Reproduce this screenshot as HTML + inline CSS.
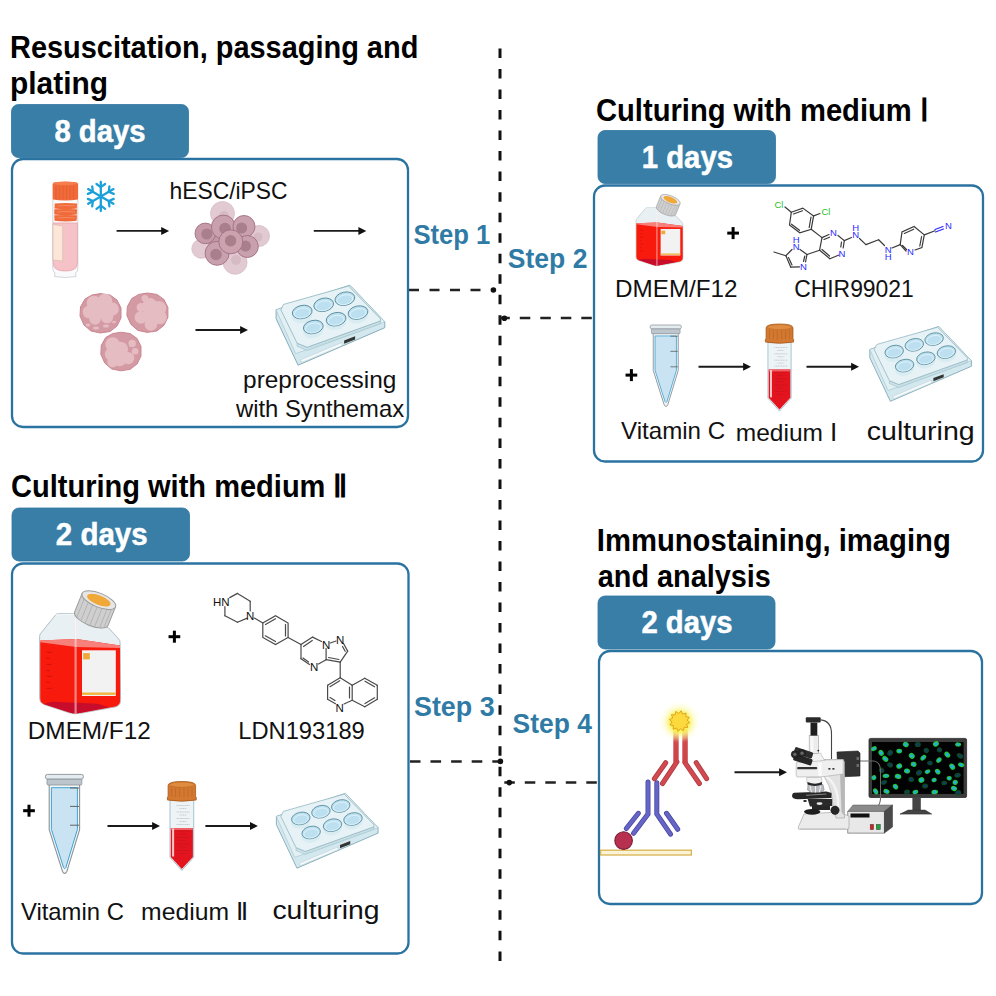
<!DOCTYPE html>
<html><head><meta charset="utf-8">
<style>
html,body{margin:0;padding:0;background:#fff;width:996px;height:996px;overflow:hidden}
svg{display:block}
.t{font-family:"Liberation Sans",sans-serif;font-weight:bold;fill:#000}
.w{font-family:"Liberation Sans",sans-serif;font-weight:bold;fill:#fff;stroke:#fff;stroke-width:0.5}
.s{font-family:"Liberation Sans",sans-serif;font-weight:bold;fill:#2f7ba6}
.n{font-family:"Liberation Sans",sans-serif;fill:#111}
</style></head><body>
<svg width="996" height="996" viewBox="0 0 996 996">
<!-- vertical dashed line -->
<line x1="500" y1="48.5" x2="500" y2="962" stroke="#111" stroke-width="3" stroke-dasharray="9.5 11.02"/>
<!-- horizontal dashed lines -->
<line x1="409" y1="290" x2="491" y2="290" stroke="#222" stroke-width="2.5" stroke-dasharray="10 10.5"/>
<circle cx="493.4" cy="290" r="2.8" fill="#111"/>
<line x1="499.3" y1="318.1" x2="594" y2="318.1" stroke="#222" stroke-width="2.5" stroke-dasharray="10.5 10"/>
<circle cx="504.4" cy="318.2" r="2.8" fill="#111"/>
<line x1="409.9" y1="761.4" x2="498" y2="761.4" stroke="#222" stroke-width="2.5" stroke-dasharray="10.6 10"/>
<circle cx="500.4" cy="761.4" r="2.8" fill="#111"/>
<line x1="504.3" y1="782.5" x2="599" y2="782.5" stroke="#222" stroke-width="2.5" stroke-dasharray="10.5 10"/>
<circle cx="509.3" cy="782.6" r="2.8" fill="#111"/>

<!-- boxes -->
<rect x="12" y="159" width="396" height="268" rx="11" fill="none" stroke="#2a73a1" stroke-width="2.3"/>
<rect x="11.5" y="104.5" width="177" height="53" rx="7" fill="#387ea7" stroke="#2f76a1" stroke-width="0.8"/>
<rect x="594" y="185.5" width="389" height="276" rx="11" fill="none" stroke="#2a73a1" stroke-width="2.3"/>
<rect x="598" y="130.5" width="177.5" height="53" rx="7" fill="#387ea7" stroke="#2f76a1" stroke-width="0.8"/>
<rect x="12" y="563.5" width="396.5" height="390" rx="11" fill="none" stroke="#2a73a1" stroke-width="2.3"/>
<rect x="12" y="508" width="177.5" height="53" rx="7" fill="#387ea7" stroke="#2f76a1" stroke-width="0.8"/>
<rect x="599" y="651" width="383" height="253" rx="11" fill="none" stroke="#2a73a1" stroke-width="2.3"/>
<rect x="598" y="596" width="177" height="53" rx="7" fill="#387ea7" stroke="#2f76a1" stroke-width="0.8"/>

<!-- titles -->
<text class="t" x="10" y="58.3" font-size="32" textLength="408.3" lengthAdjust="spacingAndGlyphs">Resuscitation, passaging and</text>
<text class="t" x="10" y="93.8" font-size="32" textLength="98" lengthAdjust="spacingAndGlyphs">plating</text>
<text class="t" x="596" y="120.8" font-size="32" textLength="332" lengthAdjust="spacingAndGlyphs">Culturing with medium Ⅰ</text>
<text class="t" x="11" y="497" font-size="32" textLength="337" lengthAdjust="spacingAndGlyphs">Culturing with medium Ⅱ</text>
<text class="t" x="596.8" y="551.2" font-size="32" textLength="354" lengthAdjust="spacingAndGlyphs">Immunostaining, imaging</text>
<text class="t" x="597.8" y="586.5" font-size="32" textLength="173" lengthAdjust="spacingAndGlyphs">and analysis</text>

<!-- tab texts -->
<text class="w" x="54.4" y="141.6" font-size="31" textLength="91.1" lengthAdjust="spacingAndGlyphs">8 days</text>
<text class="w" x="641.8" y="168.3" font-size="31" textLength="91.2" lengthAdjust="spacingAndGlyphs">1 days</text>
<text class="w" x="55.8" y="545" font-size="31" textLength="91.8" lengthAdjust="spacingAndGlyphs">2 days</text>
<text class="w" x="641.4" y="633.1" font-size="31" textLength="91.1" lengthAdjust="spacingAndGlyphs">2 days</text>

<!-- steps -->
<text class="s" x="413.4" y="243.8" font-size="27" textLength="77" lengthAdjust="spacingAndGlyphs">Step 1</text>
<text class="s" x="507.8" y="268" font-size="27" textLength="79.6" lengthAdjust="spacingAndGlyphs">Step 2</text>
<text class="s" x="414" y="716.4" font-size="27" textLength="80.6" lengthAdjust="spacingAndGlyphs">Step 3</text>
<text class="s" x="512.6" y="732.9" font-size="27" textLength="79.4" lengthAdjust="spacingAndGlyphs">Step 4</text>

<!-- labels -->
<text class="n" x="169.5" y="199.3" font-size="24" textLength="118.1" lengthAdjust="spacingAndGlyphs">hESC/iPSC</text>
<text class="n" x="243.1" y="388.3" font-size="24" textLength="153.3" lengthAdjust="spacingAndGlyphs">preprocessing</text>
<text class="n" x="236" y="416.8" font-size="24" textLength="168.1" lengthAdjust="spacingAndGlyphs">with Synthemax</text>
<text class="n" x="615" y="296.7" font-size="24" textLength="122.6" lengthAdjust="spacingAndGlyphs">DMEM/F12</text>
<text class="n" x="794.2" y="296.7" font-size="24" textLength="119.6" lengthAdjust="spacingAndGlyphs">CHIR99021</text>
<text class="n" x="621.1" y="438.7" font-size="24" textLength="104" lengthAdjust="spacingAndGlyphs">Vitamin C</text>
<text class="n" x="735.8" y="440.7" font-size="24" textLength="101.2" lengthAdjust="spacingAndGlyphs">medium Ⅰ</text>
<text class="n" x="866.8" y="440.3" font-size="25" textLength="107.9" lengthAdjust="spacingAndGlyphs">culturing</text>
<text class="n" x="27.8" y="739" font-size="24" textLength="123" lengthAdjust="spacingAndGlyphs">DMEM/F12</text>
<text class="n" x="238.2" y="739" font-size="24" textLength="126.6" lengthAdjust="spacingAndGlyphs">LDN193189</text>
<text class="n" x="20.9" y="919.5" font-size="24" textLength="103" lengthAdjust="spacingAndGlyphs">Vitamin C</text>
<text class="n" x="141.1" y="920" font-size="24" textLength="107.2" lengthAdjust="spacingAndGlyphs">medium Ⅱ</text>
<text class="n" x="272.4" y="919.4" font-size="25" textLength="107.2" lengthAdjust="spacingAndGlyphs">culturing</text>

<!-- ILLUSTRATIONS -->
<defs>
  <g id="arrow">
    <line x1="0" y1="0" x2="46" y2="0" stroke="#1a1a1a" stroke-width="1.9"/>
    <path d="M44.6,-4 L52.5,0 L44.6,4 Z" fill="#111"/>
  </g>
  <g id="plate">
    <path d="M0,24.6 L73.8,0 L108.7,36.6 L108.7,42.5 L22,80 L0,33.5 Z" fill="#d3e8ee" stroke="#86adb9" stroke-width="1"/>
    <path d="M0,24.6 L73.8,0 L108.7,36.6 L19.5,68.5 Z" fill="#e2eff3" stroke="#9ec1cb" stroke-width="0.6"/>
    <path d="M25,74.5 L66,57.3 L66,60.3 L25,77.5 Z" fill="#f6fafb" stroke="#a9c4cc" stroke-width="0.4"/>
    <path d="M68,55.2 L79,51 L79,54.4 L68,58.6 Z" fill="#333"/>
    <path d="M21,58 L31,62.1 L104.2,35.8 L104.2,38.6 L31,65.2 L21,61 Z" fill="#cde3ea" stroke="#8fb4bf" stroke-width="0.5"/>
    <path d="M7.5,19.2 L72.5,0.8 L104.4,33.6 L104.2,35.8 L31,62.1 L21,58 L4.7,24.6 Z" fill="#e6f2f5" stroke="#8fb4bf" stroke-width="0.8"/>
    <g stroke="#a8c6cf" stroke-width="0.5"><path d="M31,64 L104,37.5" stroke-dasharray="0.8 0.8"/></g>
    <g fill="#d9ecf2">
      <path d="M16.1,26.8 L16.1,33 A10,6.6 -12 0 0 36.1,29 L36.1,26.8 Z"/>
      <path d="M27.2,41.8 L27.2,48 A10,6.6 -12 0 0 47.2,44 L47.2,41.8 Z"/>
      <path d="M50,34 L50,40 A10,6.6 -12 0 0 70,36 L70,34 Z"/>
      <path d="M71.9,27.4 L71.9,33.4 A10,6.6 -12 0 0 91.9,29.4 L91.9,27.4 Z"/>
    </g>
    <g fill="#bde0f0" stroke="#5a8e9e" stroke-width="0.9">
      <ellipse cx="26.1" cy="26.8" rx="10" ry="6.6" transform="rotate(-12 26.1 26.8)"/>
      <ellipse cx="47.6" cy="19.6" rx="10" ry="6.6" transform="rotate(-12 47.6 19.6)"/>
      <ellipse cx="68.8" cy="13.5" rx="10" ry="6.6" transform="rotate(-12 68.8 13.5)"/>
      <ellipse cx="37.2" cy="41.8" rx="10" ry="6.6" transform="rotate(-12 37.2 41.8)"/>
      <ellipse cx="60" cy="34" rx="10" ry="6.6" transform="rotate(-12 60 34)"/>
      <ellipse cx="81.9" cy="27.4" rx="10" ry="6.6" transform="rotate(-12 81.9 27.4)"/>
    </g>
    <g fill="none" stroke="#e6f4fa" stroke-width="0.8">
      <ellipse cx="26.1" cy="27.8" rx="8" ry="4.8" transform="rotate(-12 26.1 27.8)"/>
      <ellipse cx="47.6" cy="20.6" rx="8" ry="4.8" transform="rotate(-12 47.6 20.6)"/>
      <ellipse cx="68.8" cy="14.5" rx="8" ry="4.8" transform="rotate(-12 68.8 14.5)"/>
      <ellipse cx="37.2" cy="42.8" rx="8" ry="4.8" transform="rotate(-12 37.2 42.8)"/>
      <ellipse cx="60" cy="35" rx="8" ry="4.8" transform="rotate(-12 60 35)"/>
      <ellipse cx="81.9" cy="28.4" rx="8" ry="4.8" transform="rotate(-12 81.9 28.4)"/>
    </g>
  </g>
  <g id="epp">
    <path d="M3.8,10 L34.2,10 L34.2,55.2 L21.5,97 Q19.3,101 17.1,97 L3.8,55.2 Z" fill="#f4f7f9" stroke="#8a9298" stroke-width="1.1"/>
    <path d="M6,13.3 L32,13.3 L32,55 L20.5,93 Q19.3,95.5 18.1,93 L6,55 Z" fill="#c9e3f3" stroke="#3fa3d0" stroke-width="1"/>
    <rect x="1.6" y="4.4" width="34.8" height="6.2" rx="1" fill="#bcc6cc" stroke="#8a9298" stroke-width="0.8"/>
    <rect x="0" y="0" width="38" height="4.6" rx="2" fill="#e3ecef" stroke="#8a9298" stroke-width="0.9"/>
    <g stroke="#555" stroke-width="0.9"><line x1="24.6" y1="13.6" x2="33.6" y2="13.6"/><line x1="24.6" y1="32" x2="33.6" y2="32"/><line x1="24.6" y1="50.8" x2="33.6" y2="50.8"/></g>
  </g>
  <g id="falcon">
    <path d="M2.4,19 L26.1,19 L26.1,75.8 L14.2,89 L2.4,75.8 Z" fill="#eef4f6" stroke="#a6c4d0" stroke-width="1"/>
    <path d="M3.2,46.5 L25.3,46.5 L25.3,75.5 L14.2,87.5 L3.2,75.5 Z" fill="#e4141e"/><rect x="3.2" y="46.5" width="22.1" height="2" fill="#f06068"/>
    <rect x="4.5" y="47" width="2" height="28" fill="#f8c8c8"/>
    <g stroke="#b8c0c4" stroke-width="0.8" stroke-dasharray="1.2 0.5">
      <line x1="9" y1="24" x2="22" y2="24"/><line x1="12" y1="27" x2="19" y2="27"/>
      <line x1="9" y1="30.5" x2="22" y2="30.5"/><line x1="12" y1="33.5" x2="19" y2="33.5"/>
      <line x1="9" y1="37" x2="22" y2="37"/><line x1="12" y1="40" x2="19" y2="40"/>
      <line x1="9" y1="43" x2="22" y2="43"/>
    </g>
    <g stroke="#c01420" stroke-width="0.8" stroke-dasharray="1.2 0.5">
      <line x1="9" y1="49.5" x2="22" y2="49.5"/><line x1="12" y1="52.5" x2="19" y2="52.5"/>
      <line x1="9" y1="56" x2="22" y2="56"/><line x1="12" y1="59" x2="19" y2="59"/>
      <line x1="9" y1="62.5" x2="22" y2="62.5"/><line x1="12" y1="65.5" x2="19" y2="65.5"/>
      <line x1="9" y1="69" x2="22" y2="69"/><line x1="12" y1="72" x2="19" y2="72"/>
    </g>
    <path d="M0.5,4 Q0.5,0 14.2,0 Q28,0 28,4 L28,15 L28.6,15.5 L28.6,18.5 Q14.2,21 -0.2,18.5 L-0.2,15.5 L0.5,15 Z" fill="#d27830" stroke="#a85a1c" stroke-width="0.8"/><g stroke="#b8621e" stroke-width="0.6"><line x1="4" y1="6" x2="4" y2="15"/><line x1="8" y1="6.5" x2="8" y2="15.5"/><line x1="12" y1="6.5" x2="12" y2="15.5"/><line x1="16.4" y1="6.5" x2="16.4" y2="15.5"/><line x1="20.4" y1="6.5" x2="20.4" y2="15.5"/><line x1="24.4" y1="6" x2="24.4" y2="15"/></g>
    <ellipse cx="14.2" cy="3.2" rx="12.5" ry="2.6" fill="#e08c40" stroke="#b86a24" stroke-width="0.6"/>
  </g>
  <g id="flask">
    <path d="M0,48 Q0,46 1.5,44.5 L16,26.5 Q17,25.4 18.5,25.4 L36,25 L69,39.5 L79,50.5 Q80.5,52 80.5,54 L81,112 Q81,117 76,118.5 L40,125 Q35,126 30,124.5 L4,116 Q0,114.5 0,110 Z" fill="#e8f0f3" stroke="#aebfc6" stroke-width="1"/>
    <path d="M0.6,52.1 L36.8,50.7 L80.4,57 L80.5,112 Q80.5,116.5 76,118 L40,124.5 Q35,125.5 30,124 L4,115.5 Q0.6,114 0.6,110 Z" fill="#f81a0c"/>
    <path d="M0.6,52.1 L36.8,50.7 L80.4,57 L80.4,59.5 L36.8,58.6 L0.6,53.8 Z" fill="#f7807a"/>
    <path d="M12.9,113.3 L57.9,115.4 L69.2,118.9 L40,124.5 Q35,125.5 30,124 L4,115.5 Z" fill="#c80c2c"/>
    <g stroke="#d01010" stroke-width="0.9"><line x1="7" y1="64" x2="12" y2="64"/><line x1="7" y1="70" x2="10" y2="70"/><line x1="7" y1="76" x2="12" y2="76"/><line x1="7" y1="82" x2="10" y2="82"/><line x1="7" y1="88" x2="12" y2="88"/><line x1="7" y1="94" x2="10" y2="94"/><line x1="7" y1="100" x2="12" y2="100"/></g>
    <line x1="36" y1="25.5" x2="36" y2="125" stroke="#fbe0e0" stroke-width="2.2" opacity="0.55"/>
    <path d="M16,26.5 L36,25.5 L36,51" fill="none" stroke="#ffffff" stroke-width="1.2" opacity="0.6"/>
    <rect x="42.4" y="61.9" width="33.8" height="45.7" fill="#f2f2f2"/>
    <rect x="43.6" y="64.7" width="6.6" height="6.3" fill="#f0a838"/>
    <rect x="42.4" y="104.1" width="33.8" height="2.4" fill="#f0b440"/>
    <g transform="translate(55.5 21) rotate(22)">
      <path d="M-18,-10 L-18,10 A18,7 0 0 0 18,10 L18,-10 Z" fill="#cfcfcf" stroke="#9a9a9a" stroke-width="1"/>
      <g stroke="#b0b0b0" stroke-width="0.8"><line x1="-14" y1="-6" x2="-14" y2="14"/><line x1="-9" y1="-4" x2="-9" y2="16"/><line x1="-4" y1="-3" x2="-4" y2="17"/><line x1="1" y1="-3" x2="1" y2="17"/><line x1="6" y1="-3.5" x2="6" y2="16.5"/><line x1="11" y1="-5" x2="11" y2="15"/><line x1="15" y1="-7" x2="15" y2="13"/></g>
      <ellipse cx="0" cy="-10" rx="18" ry="7" fill="#e6e6e6" stroke="#9a9a9a" stroke-width="1"/>
      <ellipse cx="0" cy="-10" rx="12.5" ry="4.8" fill="#f0a838"/>
    </g>
  </g>
  <g id="snow" stroke="#1aa0d8" stroke-width="2.6" stroke-linecap="butt" fill="none">
    <g id="arm"><line x1="0" y1="0" x2="0" y2="-14.6"/><polyline points="-4.3,-12.4 0,-9.2 4.3,-12.4"/></g>
  </g>
</defs>

<!-- BOX1 -->
<!-- cryovial -->
<g>
  <path d="M52.8,200 L52.8,268 Q52.8,272 55,273 L54.5,276.5 Q65,278.5 76,276.5 L75.6,273 Q77.8,272 77.8,268 L77.8,200" fill="#f8fafb" stroke="#c8cdd0" stroke-width="0.8"/>
  <path d="M53.2,223 L77.4,223 L77.4,263 Q77.4,271 65.3,271 Q53.2,271 53.2,263 Z" fill="#f5c2c8" stroke="#e8a2ac" stroke-width="0.8"/>
  <path d="M53,224.5 L62.7,226 L62.7,261 L53,260 Z" fill="#fce6d8" stroke="#d8b8a8" stroke-width="0.6"/>
  <g fill="#f06a3a">
    <path d="M54.8,203.5 Q66,202.3 77,203.5 L76.8,208.6 Q66,209.6 54.5,208.6 Z"/>
    <path d="M54.3,209.3 Q66,208.5 77,209.3 L76.8,214.6 Q66,215.6 54.3,214.6 Z"/>
    <path d="M54.3,215.3 Q66,214.5 77,215.3 L76.6,220.8 Q66,222 54.6,220.8 Z"/>
  </g>
  <g stroke="#f7a080" stroke-width="0.6" fill="none"><path d="M57,206 Q66,205 75,206"/><path d="M57,212 Q66,211 75,212"/><path d="M57,218 Q66,217 75,218"/></g>
  <path d="M52.6,184 Q52.6,181.8 65.3,181.8 Q78.1,181.8 78.1,184 L78.1,199.5 Q65.3,201.5 52.6,199.5 Z" fill="#f06a3a"/>
  <ellipse cx="65.3" cy="183.2" rx="12.5" ry="1.8" fill="#f47e50"/>
  <g stroke="#d85828" stroke-width="0.5"><line x1="56" y1="186" x2="56" y2="199"/><line x1="59.5" y1="186" x2="59.5" y2="199"/><line x1="63" y1="186" x2="63" y2="199"/><line x1="66.5" y1="186" x2="66.5" y2="199"/><line x1="70" y1="186" x2="70" y2="199"/><line x1="73.5" y1="186" x2="73.5" y2="199"/></g>
</g>
<!-- snowflake -->
<g transform="translate(100.8 196.4)" stroke="#1ca0da" stroke-width="2.3" stroke-linecap="round" stroke-linejoin="round" fill="none">
  <use href="#arm"/>
  <use href="#arm" transform="rotate(60)"/>
  <use href="#arm" transform="rotate(120)"/>
  <use href="#arm" transform="rotate(180)"/>
  <use href="#arm" transform="rotate(240)"/>
  <use href="#arm" transform="rotate(300)"/>
</g>
<use href="#arrow" transform="translate(116.6 230.9)"/>
<use href="#arrow" transform="translate(313.8 230.9)"/>
<use href="#arrow" transform="translate(195.5 330)"/>

<!-- cell cluster -->
<g>
  <g fill="#e2cad2" stroke="#d8bcc6" stroke-width="0.8">
    <circle cx="222.5" cy="213.5" r="12"/>
    <circle cx="259" cy="236" r="10.5"/>
    <circle cx="201.3" cy="248.8" r="9.5"/>
    <circle cx="235.1" cy="262.3" r="12"/>
  </g>
  <circle cx="215" cy="242" r="7" fill="#c29aa6"/>
  <g fill="#d6bac4"><circle cx="224" cy="216" r="5"/><circle cx="258" cy="237" r="4.5"/><circle cx="236" cy="260" r="5"/></g>
  <g stroke="#a06e82" stroke-width="0.9">
    <circle cx="205.3" cy="233.4" r="10.3" fill="#c69aa8"/>
    <circle cx="206.8" cy="234" r="5.5" fill="#a97e8d" stroke="none"/>
    <circle cx="223.4" cy="227.1" r="12" fill="#c9a0ad"/>
    <circle cx="225" cy="228.5" r="5.8" fill="#a97e8d" stroke="none"/>
    <circle cx="244" cy="226.5" r="11" fill="#c9a0ad"/>
    <circle cx="241.6" cy="228" r="5.5" fill="#a97e8d" stroke="none"/>
    <circle cx="217.1" cy="253.3" r="12" fill="#c9a0ad"/>
    <circle cx="216" cy="254.5" r="5.8" fill="#a97e8d" stroke="none"/>
    <circle cx="247.3" cy="246.5" r="11" fill="#c9a0ad"/>
    <circle cx="245.5" cy="246" r="5.5" fill="#a97e8d" stroke="none"/>
    <circle cx="230.8" cy="241.8" r="12" fill="#cba2ae"/>
    <circle cx="230.6" cy="240.8" r="5.7" fill="#a97e8d" stroke="none"/>
  </g>
</g>

<!-- spheroids -->
<g id="sph">
  <path d="M100.4,293.6 L110,295 L117,300 L121,308 L121,318 L117,326 L110,331.5 L100.4,333 L91,331 L84,325 L80,316 L80.5,307 L85,299 L92,295 Z" fill="#d49aa3" stroke="#c98590" stroke-width="1"/>
  <g fill="#e4bcc2">
    <circle cx="94" cy="303" r="7.3"/><circle cx="105" cy="301" r="7.3"/><circle cx="112" cy="309" r="6.8"/><circle cx="100" cy="311" r="7.8"/><circle cx="89" cy="312" r="6.3"/><circle cx="107" cy="317" r="6.3"/><circle cx="95" cy="319" r="5.8"/><ellipse cx="88" cy="325" rx="2.5" ry="1.5"/><ellipse cx="96" cy="328" rx="3" ry="1.5"/><ellipse cx="106" cy="326" rx="3" ry="1.5"/><ellipse cx="114" cy="322" rx="2" ry="1.3"/>
  </g>
</g>
<g transform="translate(46.9 -0.6)">
  <path d="M100.4,293.6 L110,295 L117,300 L121,308 L121,318 L117,326 L110,331.5 L100.4,333 L91,331 L84,325 L80,316 L80.5,307 L85,299 L92,295 Z" fill="#d49aa3" stroke="#c98590" stroke-width="1"/>
  <g fill="#e4bcc2">
    <circle cx="103" cy="306" r="7.3"/><circle cx="112" cy="309" r="7.3"/><circle cx="113" cy="318" r="6.8"/><circle cx="103" cy="316" r="7.8"/><circle cx="94" cy="318" r="6.3"/><circle cx="104" cy="325" r="6.3"/><circle cx="94" cy="308" r="4.3"/><circle cx="98" cy="299" r="3.3"/>
  </g>
</g>
<g transform="translate(22.4 44.5) scale(0.98)">
  <path d="M100.4,293.6 L110,295 L117,300 L121,308 L121,318 L117,326 L110,331.5 L100.4,333 L91,331 L84,325 L80,316 L80.5,307 L85,299 L92,295 Z" fill="#d49aa3" stroke="#c98590" stroke-width="1"/>
  <g fill="#e4bcc2">
    <circle cx="92" cy="306" r="7.3"/><circle cx="100" cy="311" r="7.8"/><circle cx="91" cy="316" r="6.8"/><circle cx="99" cy="321" r="7.3"/><circle cx="108" cy="320" r="6.3"/><circle cx="92" cy="324" r="5.3"/><circle cx="112" cy="305" r="3.8"/><circle cx="115" cy="313" r="3.3"/>
  </g>
</g>
<use href="#plate" transform="translate(276.1 285.2)"/>

<!-- BOX2 -->
<use href="#flask" transform="translate(636 193) scale(0.581)"/>
<use href="#epp" transform="translate(650.1 325) scale(0.823)"/>
<use href="#falcon" transform="translate(765.6 324) scale(0.978)"/>
<use href="#plate" transform="translate(869.8 326.5) scale(0.935)"/>
<use href="#arrow" transform="translate(698.5 366.8)"/>
<use href="#arrow" transform="translate(806.5 366.8)"/>

<!-- BOX3 -->
<use href="#flask" transform="translate(39.6 588.4)"/>
<use href="#epp" transform="translate(45.4 774.4)"/>
<use href="#falcon" transform="translate(167.6 781.5)"/>
<use href="#plate" transform="translate(276.4 793.4) scale(0.935)"/>
<use href="#arrow" transform="translate(107.5 826)"/>
<use href="#arrow" transform="translate(205.4 826)"/>


<!-- plus signs -->
<g fill="#000">
  <rect x="727.25" y="231.6" width="11.7" height="3" /><rect x="731.6" y="227.1" width="3" height="12"/>
  <rect x="168.55" y="635.2" width="11.7" height="3" /><rect x="172.9" y="630.7" width="3" height="12"/>
  <rect x="625.55" y="373.6" width="11.7" height="3" /><rect x="629.9" y="369.1" width="3" height="12"/>
  <rect x="23.15" y="809.2" width="11.7" height="3" /><rect x="27.5" y="804.7" width="3" height="12"/>
</g>

<!-- CHIR99021 -->
<g stroke="#3a3a3a" stroke-width="1.2" fill="none" stroke-linecap="round">
  <!-- phenyl -->
  <polyline points="791.3,212.3 802.8,208.1 813.6,215.9 811.2,229.2 799.8,232.8 789.5,224.9 791.3,212.3"/>
  <line x1="793.5" y1="214" x2="802.5" y2="210.8"/>
  <line x1="811" y1="217" x2="809.2" y2="227.5"/>
  <line x1="799.5" y1="230.3" x2="791.5" y2="224.2"/>
  <line x1="791.3" y1="212.3" x2="785" y2="207"/>
  <line x1="813.6" y1="215.9" x2="820" y2="213.5"/>
  <!-- phenyl to pyrimidine -->
  <line x1="811.2" y1="229.2" x2="822" y2="237.6"/>
  <!-- pyrimidine -->
  <line x1="822" y1="237.6" x2="829" y2="234.5"/>
  <line x1="838" y1="235.5" x2="844.3" y2="240.6"/>
  <line x1="844.3" y1="240.6" x2="843.2" y2="248"/>
  <line x1="839" y1="255" x2="829.9" y2="258.7"/>
  <line x1="829.9" y1="258.7" x2="819.6" y2="250.2"/>
  <line x1="819.6" y1="250.2" x2="822" y2="237.6"/>
  <line x1="824" y1="239.5" x2="829.5" y2="237.2"/>
  <line x1="841.5" y1="242" x2="840.8" y2="247"/>
  <line x1="829.5" y1="256" x2="822" y2="249.5"/>
  <!-- NH ethyl -->
  <line x1="844.3" y1="240.6" x2="851.5" y2="237.5"/>
  <line x1="859.5" y1="238.5" x2="865.9" y2="244.6"/>
  <line x1="865.9" y1="244.6" x2="878.6" y2="239.8"/>
  <line x1="878.6" y1="239.8" x2="884.5" y2="245.5"/>
  <line x1="892" y1="248" x2="900.2" y2="244.6"/>
  <!-- pyridine -->
  <polyline points="900.2,244.6 902,231.9 914.1,226.5 924.3,234.9 921.9,247.6 915,250"/>
  <line x1="906" y1="251" x2="900.2" y2="244.6"/>
  <line x1="904.3" y1="233.5" x2="913.7" y2="229.2"/>
  <line x1="921.6" y1="236.5" x2="919.8" y2="246"/>
  <line x1="902.5" y1="245.5" x2="906.5" y2="249.5"/>
  <line x1="924.3" y1="234.9" x2="935" y2="230.8"/>
  <line x1="935" y1="229.5" x2="943" y2="226.5" stroke="#2a2aff"/>
  <line x1="935.5" y1="232" x2="943.5" y2="229" stroke="#2a2aff"/>
  <!-- imidazole -->
  <line x1="819.6" y1="250.2" x2="807" y2="254.5"/>
  <line x1="807" y1="254.5" x2="800" y2="249.5"/>
  <line x1="792" y1="249.5" x2="785.9" y2="255.7"/>
  <line x1="785.9" y1="255.7" x2="790.7" y2="267.1"/>
  <line x1="790.7" y1="267.1" x2="799.5" y2="266.8"/>
  <line x1="805.5" y1="262" x2="807" y2="254.5"/>
  <line x1="788.5" y1="257.5" x2="792" y2="265"/>
  <line x1="803.5" y1="261.5" x2="804.8" y2="256"/>
  <line x1="785.9" y1="255.7" x2="773.9" y2="252"/>
</g>
<g font-family="Liberation Sans, sans-serif" font-size="9.5" fill="#2a2aff" text-anchor="middle">
  <text x="833.5" y="236.2">N</text>
  <text x="841.9" y="256.7">N</text>
  <text x="855.7" y="238.3">N</text>
  <text x="855.7" y="230.9">H</text>
  <text x="888.2" y="252.8">N</text>
  <text x="888.2" y="260.2">H</text>
  <text x="910.5" y="255.2">N</text>
  <text x="948.4" y="229.3">N</text>
  <text x="796.1" y="250.0">N</text>
  <text x="796.1" y="242.6">H</text>
  <text x="803.4" y="269.9">N</text>
</g>
<g font-family="Liberation Sans, sans-serif" font-size="9.5" fill="#28c028" text-anchor="middle">
  <text x="779" y="207.9">Cl</text>
  <text x="826" y="215.1">Cl</text>
</g>

<!-- LDN193189 -->
<g stroke="#4a4a4a" stroke-width="1.2" fill="none" stroke-linecap="round">
  <!-- piperazine -->
  <line x1="229.7" y1="597.6" x2="237.5" y2="593.4"/>
  <line x1="237.5" y1="593.4" x2="250.2" y2="601.3"/>
  <line x1="250.2" y1="601.3" x2="250.2" y2="610.9"/>
  <line x1="247.2" y1="618.1" x2="237.5" y2="622.3"/>
  <line x1="237.5" y1="622.3" x2="224.9" y2="615.7"/>
  <line x1="224.9" y1="615.7" x2="224.9" y2="606.7"/>
  <line x1="254.4" y1="618.1" x2="262.8" y2="623"/>
  <!-- phenyl -->
  <polyline points="262.8,623 275.5,615.7 288.1,623 288.1,637.4 275.5,644.6 262.8,637.4 262.8,623"/>
  <line x1="265.5" y1="624.5" x2="275.5" y2="618.8"/>
  <line x1="285.5" y1="624.5" x2="285.5" y2="636"/>
  <line x1="275.5" y1="641.6" x2="265.3" y2="635.8"/>
  <line x1="288.1" y1="637.4" x2="301" y2="644.6"/>
  <!-- pyrimidine -->
  <line x1="301" y1="644.6" x2="312.6" y2="637.1"/>
  <line x1="303.5" y1="646.5" x2="312.3" y2="640.5"/>
  <line x1="312.6" y1="637.1" x2="321.5" y2="641.5"/>
  <line x1="326.1" y1="648.5" x2="326.1" y2="659.7"/>
  <line x1="326.1" y1="659.7" x2="318.5" y2="664"/>
  <line x1="309.5" y1="664.5" x2="301" y2="658.7"/>
  <line x1="308.5" y1="662" x2="303" y2="658"/>
  <line x1="301" y1="658.7" x2="301" y2="644.6"/>
  <!-- pyrazole -->
  <line x1="330.3" y1="643" x2="336" y2="641"/>
  <line x1="343.5" y1="643.5" x2="347.7" y2="651.1"/>
  <line x1="342.5" y1="646.5" x2="345.2" y2="651.3"/>
  <line x1="347.7" y1="651.1" x2="340.2" y2="662.2"/>
  <line x1="340.2" y1="662.2" x2="326.1" y2="659.7"/>
  <line x1="339" y1="659.5" x2="328.5" y2="657.5"/>
  <line x1="340.2" y1="662.2" x2="340.2" y2="677.7"/>
  <!-- quinoline -->
  <line x1="340.2" y1="677.7" x2="327.6" y2="685.3"/>
  <line x1="339.7" y1="680.7" x2="330" y2="686.7"/>
  <line x1="327.6" y1="685.3" x2="327.6" y2="699.3"/>
  <line x1="327.6" y1="699.3" x2="335.5" y2="703.8"/>
  <line x1="330" y1="697.5" x2="335" y2="700.5"/>
  <line x1="344" y1="704" x2="352.2" y2="700.3"/>
  <line x1="352.2" y1="700.3" x2="352.2" y2="685.3"/>
  <line x1="349.5" y1="698" x2="349.5" y2="687"/>
  <line x1="352.2" y1="685.3" x2="340.2" y2="677.7"/>
  <line x1="352.2" y1="685.3" x2="364.8" y2="678.2"/>
  <line x1="364.8" y1="678.2" x2="377.3" y2="685.3"/>
  <line x1="365" y1="681.2" x2="374.6" y2="686.8"/>
  <line x1="377.3" y1="685.3" x2="377.3" y2="699.3"/>
  <line x1="377.3" y1="699.3" x2="364.8" y2="706.8"/>
  <line x1="374.6" y1="697.8" x2="365" y2="703.6"/>
  <line x1="364.8" y1="706.8" x2="352.2" y2="700.3"/>
</g>
<g font-family="Liberation Sans, sans-serif" font-size="11.5" fill="#111" text-anchor="middle">
  <text x="221.3" y="605.5">HN</text>
  <text x="250.2" y="619.8">N</text>
  <text x="326.1" y="648.7">N</text>
  <text x="340.2" y="644.3">N</text>
  <text x="314.1" y="670.9">N</text>
  <text x="339.7" y="711.5">N</text>
</g>

<!-- BOX4 -->
<use href="#arrow" transform="translate(734.5 772.3)"/>
<!-- antibody -->
<defs>
  <radialGradient id="glow" cx="0.5" cy="0.5" r="0.5">
    <stop offset="0" stop-color="#f8f040" stop-opacity="1"/>
    <stop offset="0.45" stop-color="#f8f24a" stop-opacity="0.9"/>
    <stop offset="0.7" stop-color="#fcf8a0" stop-opacity="0.45"/>
    <stop offset="1" stop-color="#ffffe0" stop-opacity="0"/>
  </radialGradient>
  <linearGradient id="redfade" x1="0" y1="0" x2="0" y2="1">
    <stop offset="0" stop-color="#f4e070"/>
    <stop offset="0.35" stop-color="#d04a4e"/>
    <stop offset="1" stop-color="#cc4248"/>
  </linearGradient>
</defs>
<rect x="600.6" y="850.2" width="90.8" height="4.8" fill="#fbf3d8" stroke="#d8b450" stroke-width="1.3"/>
<g stroke-linecap="round" fill="none">
  <g stroke="#4a48a8" stroke-width="5">
    <polyline points="648,781.9 648,814.1 633.6,833.3"/>
    <polyline points="656.8,782.7 656.8,814.1 670.5,834.1"/>
    <line x1="638.4" y1="813.3" x2="626.3" y2="828.5"/>
    <line x1="666.5" y1="813.3" x2="677.7" y2="829.3"/>
  </g>
  <g stroke="#6664c4" stroke-width="3.4">
    <polyline points="648,781.9 648,814.1 633.6,833.3"/>
    <polyline points="656.8,782.7 656.8,814.1 670.5,834.1"/>
    <line x1="638.4" y1="813.3" x2="626.3" y2="828.5"/>
    <line x1="666.5" y1="813.3" x2="677.7" y2="829.3"/>
  </g>
  <g stroke="#ac3a40" stroke-width="5">
    <polyline points="676.9,761.8 662.5,783.5"/>
    <polyline points="685,762.7 699.4,783.5"/>
    <line x1="665.7" y1="762.7" x2="654.4" y2="778.7"/>
    <line x1="696.2" y1="762.7" x2="706.6" y2="778.7"/>
  </g>
  <g stroke="#d24a50" stroke-width="3.4">
    <polyline points="676.9,761.8 662.5,783.5"/>
    <polyline points="685,762.7 699.4,783.5"/>
    <line x1="665.7" y1="762.7" x2="654.4" y2="778.7"/>
    <line x1="696.2" y1="762.7" x2="706.6" y2="778.7"/>
  </g>
</g>
<rect x="673.3" y="729" width="5.4" height="34" rx="1" fill="url(#redfade)"/>
<rect x="682.3" y="729" width="5.5" height="34" rx="1" fill="url(#redfade)"/>
<circle cx="679.6" cy="722" r="21" fill="url(#glow)"/>
<path id="star" fill="#fcd93c" stroke="#e2a424" stroke-width="1" stroke-linejoin="round" d="M681.15,710.82 L682.64,714.14 L686.09,712.97 L685.72,716.59 L689.28,717.30 L687.15,720.25 L689.88,722.65 L686.56,724.14 L687.73,727.59 L684.11,727.22 L683.40,730.78 L680.45,728.65 L678.05,731.38 L676.56,728.06 L673.11,729.23 L673.48,725.61 L669.92,724.90 L672.05,721.95 L669.32,719.55 L672.64,718.06 L671.47,714.61 L675.09,714.98 L675.80,711.42 L678.75,713.55 L681.15,710.82 Z"/>
<circle cx="623.6" cy="840.6" r="8.8" fill="#b8304f" stroke="#7a1a34" stroke-width="1.1"/>

<!-- monitor -->
<rect x="869" y="738.4" width="97.6" height="59.1" rx="1.5" fill="#3c3c3c" stroke="#2a2a2a" stroke-width="0.8"/>
<rect x="872" y="742" width="91.6" height="51.9" fill="#020202"/>
<g><g transform="translate(873.9 748.7) rotate(-30)"><ellipse rx="3.1" ry="2.2" fill="#1fc83a"/><ellipse rx="1.7" ry="1.3" fill="#2aa8e8"/></g>
<g transform="translate(881.1 752.9) rotate(57)"><ellipse rx="3.1" ry="2.5" fill="#1fc83a"/><ellipse rx="1.7" ry="1.5" fill="#2aa8e8"/></g>
<g transform="translate(890.1 752.9) rotate(-52)"><ellipse rx="3.1" ry="2.6" fill="#0d4a22"/><ellipse rx="1.6" ry="1.5" fill="#123a6a"/></g>
<g transform="translate(899.2 751.1) rotate(0)"><ellipse rx="2.9" ry="2.3" fill="#1fc83a"/><ellipse rx="1.6" ry="1.4" fill="#2aa8e8"/></g>
<g transform="translate(905.8 744.5) rotate(31)"><ellipse rx="3.0" ry="2.6" fill="#1fc83a"/><ellipse rx="1.6" ry="1.6" fill="#2aa8e8"/></g>
<g transform="translate(917.8 744.5) rotate(0)"><ellipse rx="3.0" ry="2.6" fill="#0d4a22"/><ellipse rx="1.5" ry="1.5" fill="#123a6a"/></g>
<g transform="translate(935.9 743.9) rotate(-31)"><ellipse rx="3.1" ry="2.6" fill="#1fc83a"/><ellipse rx="1.7" ry="1.6" fill="#2aa8e8"/></g>
<g transform="translate(958.2 744.5) rotate(6)"><ellipse rx="3.0" ry="2.1" fill="#1fc83a"/><ellipse rx="1.6" ry="1.3" fill="#2aa8e8"/></g>
<g transform="translate(926.3 750.5) rotate(39)"><ellipse rx="2.7" ry="2.5" fill="#0d4a22"/><ellipse rx="1.3" ry="1.4" fill="#123a6a"/></g>
<g transform="translate(939.5 749.9) rotate(15)"><ellipse rx="2.6" ry="2.5" fill="#0d4a22"/><ellipse rx="1.3" ry="1.4" fill="#123a6a"/></g>
<g transform="translate(947.3 754.7) rotate(45)"><ellipse rx="3.4" ry="2.4" fill="#1fc83a"/><ellipse rx="1.8" ry="1.5" fill="#2aa8e8"/></g>
<g transform="translate(960 755.9) rotate(32)"><ellipse rx="3.4" ry="2.4" fill="#0d4a22"/><ellipse rx="1.7" ry="1.3" fill="#123a6a"/></g>
<g transform="translate(885.3 758.9) rotate(40)"><ellipse rx="3.4" ry="2.4" fill="#1fc83a"/><ellipse rx="1.9" ry="1.4" fill="#2aa8e8"/></g>
<g transform="translate(911.8 755.9) rotate(42)"><ellipse rx="3.1" ry="2.7" fill="#1fc83a"/><ellipse rx="1.7" ry="1.6" fill="#2aa8e8"/></g>
<g transform="translate(923.3 757.7) rotate(-43)"><ellipse rx="3.4" ry="2.2" fill="#1fc83a"/><ellipse rx="1.8" ry="1.3" fill="#2aa8e8"/></g>
<g transform="translate(938.9 760.1) rotate(-43)"><ellipse rx="3.0" ry="2.3" fill="#1fc83a"/><ellipse rx="1.6" ry="1.4" fill="#2aa8e8"/></g>
<g transform="translate(890.1 764.9) rotate(26)"><ellipse rx="3.0" ry="2.5" fill="#0d4a22"/><ellipse rx="1.5" ry="1.4" fill="#123a6a"/></g>
<g transform="translate(899.2 766.1) rotate(-22)"><ellipse rx="3.0" ry="2.6" fill="#1fc83a"/><ellipse rx="1.6" ry="1.6" fill="#2aa8e8"/></g>
<g transform="translate(913.6 764.3) rotate(13)"><ellipse rx="3.0" ry="2.5" fill="#1fc83a"/><ellipse rx="1.6" ry="1.5" fill="#2aa8e8"/></g>
<g transform="translate(929.9 763.1) rotate(14)"><ellipse rx="2.8" ry="2.3" fill="#0d4a22"/><ellipse rx="1.4" ry="1.3" fill="#123a6a"/></g>
<g transform="translate(952.2 766.7) rotate(57)"><ellipse rx="3.4" ry="2.6" fill="#1fc83a"/><ellipse rx="1.9" ry="1.6" fill="#2aa8e8"/></g>
<g transform="translate(961.2 764.9) rotate(17)"><ellipse rx="3.2" ry="2.2" fill="#1fc83a"/><ellipse rx="1.7" ry="1.3" fill="#2aa8e8"/></g>
<g transform="translate(881.7 770.4) rotate(50)"><ellipse rx="2.9" ry="2.5" fill="#0d4a22"/><ellipse rx="1.5" ry="1.3" fill="#123a6a"/></g>
<g transform="translate(907 771) rotate(13)"><ellipse rx="3.1" ry="2.5" fill="#1fc83a"/><ellipse rx="1.7" ry="1.6" fill="#2aa8e8"/></g>
<g transform="translate(919 772.8) rotate(-33)"><ellipse rx="3.1" ry="2.7" fill="#0d4a22"/><ellipse rx="1.6" ry="1.5" fill="#123a6a"/></g>
<g transform="translate(927.5 771.6) rotate(-26)"><ellipse rx="2.9" ry="2.1" fill="#1fc83a"/><ellipse rx="1.6" ry="1.3" fill="#2aa8e8"/></g>
<g transform="translate(937.7 771.6) rotate(49)"><ellipse rx="3.1" ry="2.4" fill="#1fc83a"/><ellipse rx="1.7" ry="1.5" fill="#2aa8e8"/></g>
<g transform="translate(957.6 775.2) rotate(-16)"><ellipse rx="3.3" ry="2.4" fill="#0d4a22"/><ellipse rx="1.6" ry="1.3" fill="#123a6a"/></g>
<g transform="translate(873.9 777.6) rotate(-41)"><ellipse rx="2.6" ry="2.4" fill="#1fc83a"/><ellipse rx="1.5" ry="1.4" fill="#2aa8e8"/></g>
<g transform="translate(885.9 775.8) rotate(-7)"><ellipse rx="3.4" ry="2.1" fill="#1fc83a"/><ellipse rx="1.8" ry="1.3" fill="#2aa8e8"/></g>
<g transform="translate(898 776.4) rotate(18)"><ellipse rx="3.3" ry="2.4" fill="#1fc83a"/><ellipse rx="1.8" ry="1.4" fill="#2aa8e8"/></g>
<g transform="translate(911.2 779.4) rotate(15)"><ellipse rx="2.9" ry="2.6" fill="#0d4a22"/><ellipse rx="1.5" ry="1.5" fill="#123a6a"/></g>
<g transform="translate(921.4 780) rotate(-25)"><ellipse rx="3.0" ry="2.7" fill="#1fc83a"/><ellipse rx="1.6" ry="1.6" fill="#2aa8e8"/></g>
<g transform="translate(934.1 780) rotate(-21)"><ellipse rx="2.6" ry="2.2" fill="#1fc83a"/><ellipse rx="1.5" ry="1.3" fill="#2aa8e8"/></g>
<g transform="translate(949.2 778.2) rotate(8)"><ellipse rx="2.6" ry="2.2" fill="#1fc83a"/><ellipse rx="1.5" ry="1.3" fill="#2aa8e8"/></g>
<g transform="translate(944.3 783) rotate(-8)"><ellipse rx="2.9" ry="2.3" fill="#0d4a22"/><ellipse rx="1.4" ry="1.2" fill="#123a6a"/></g>
<g transform="translate(955.2 782.4) rotate(28)"><ellipse rx="2.6" ry="2.6" fill="#1fc83a"/><ellipse rx="1.5" ry="1.6" fill="#2aa8e8"/></g>
<g transform="translate(884.1 782.4) rotate(-20)"><ellipse rx="3.0" ry="2.2" fill="#0d4a22"/><ellipse rx="1.5" ry="1.2" fill="#123a6a"/></g>
<g transform="translate(895.5 786.6) rotate(50)"><ellipse rx="3.0" ry="2.4" fill="#1fc83a"/><ellipse rx="1.6" ry="1.5" fill="#2aa8e8"/></g>
<g transform="translate(925.1 786) rotate(6)"><ellipse rx="3.0" ry="2.6" fill="#0d4a22"/><ellipse rx="1.5" ry="1.5" fill="#123a6a"/></g>
<g transform="translate(954 788.4) rotate(27)"><ellipse rx="3.1" ry="2.5" fill="#1fc83a"/><ellipse rx="1.7" ry="1.5" fill="#2aa8e8"/></g>
<g transform="translate(875.7 791.4) rotate(60)"><ellipse rx="3.3" ry="2.3" fill="#1fc83a"/><ellipse rx="1.8" ry="1.4" fill="#2aa8e8"/></g>
<g transform="translate(886.5 791.4) rotate(21)"><ellipse rx="3.2" ry="2.3" fill="#1fc83a"/><ellipse rx="1.8" ry="1.4" fill="#2aa8e8"/></g>
<g transform="translate(907 792) rotate(-22)"><ellipse rx="3.0" ry="2.3" fill="#0d4a22"/><ellipse rx="1.5" ry="1.2" fill="#123a6a"/></g>
<g transform="translate(915.4 792) rotate(-22)"><ellipse rx="3.0" ry="2.1" fill="#1fc83a"/><ellipse rx="1.7" ry="1.3" fill="#2aa8e8"/></g>
<g transform="translate(934.7 792) rotate(-7)"><ellipse rx="3.4" ry="2.3" fill="#1fc83a"/><ellipse rx="1.9" ry="1.4" fill="#2aa8e8"/></g>
<g transform="translate(958.2 792.7) rotate(-12)"><ellipse rx="3.1" ry="2.5" fill="#0d4a22"/><ellipse rx="1.6" ry="1.4" fill="#123a6a"/></g></g>
<rect x="912.4" y="797.5" width="8.4" height="12.6" fill="#444"/>
<path d="M908.2,810.1 L925.1,810.1 L931.7,814.1 L900,814.1 Z" fill="#444" stroke="#333" stroke-width="0.6"/>


<!-- cable box->monitor -->
<path d="M860,761 L874,761 Q880,762 880.5,770 L880.5,799 Q880,805 876,808" fill="none" stroke="#6a6a6a" stroke-width="1.1"/>
<!-- controller box -->
<path d="M847.8,811.4 L853,805 L892.5,805 L884.4,811.4 Z" fill="#8a8a8a" stroke="#555" stroke-width="0.5"/>
<rect x="847.8" y="811.4" width="36.6" height="21.7" fill="#e8e8e8" stroke="#666" stroke-width="0.7"/>
<path d="M884.4,811.4 L892.5,805 L892.5,827 L884.4,833.1 Z" fill="#4a4a4a" stroke="#333" stroke-width="0.5"/>
<rect x="850.5" y="813.5" width="19" height="4" fill="#111"/>
<rect x="870.2" y="824.3" width="3.4" height="5.4" fill="#d02020" stroke="#444" stroke-width="0.5"/>
<rect x="876.3" y="824.3" width="4" height="5.4" fill="#20a040" stroke="#444" stroke-width="0.5"/>

<!-- microscope -->
<path d="M820.7,719.9 Q831.5,721 831.5,734 L831.5,759" fill="none" stroke="#444" stroke-width="1.1"/>
<!-- lamp housing -->
<path d="M837,752 L858,751 L860,753 L860,776 L838,777 Z" fill="#333" stroke="#1e1e1e" stroke-width="0.6"/>
<rect x="856.5" y="757" width="2.5" height="3" fill="#6a6a6a"/><rect x="856.5" y="764" width="2.5" height="3" fill="#6a6a6a"/>
<!-- base -->
<path d="M804,814 L838,812 L849,816 L849,827 Q849,829.5 846,829.5 L800,829.5 Q797.5,829.5 798.3,827 Z" fill="#ebebeb" stroke="#a8a8a8" stroke-width="0.7"/>
<path d="M800,829.5 L846,829.5 L846,828 L800,828 Z" fill="#cfcfcf"/>
<!-- arm -->
<path d="M824,759.6 L843.2,759.6 L844.5,762 L844.5,818 L836,818 L833,806 Q832,790 826,780 L824,776 Z" fill="#e2e2e2" stroke="#a0a0a0" stroke-width="0.6"/>
<path d="M840,774 L844.5,774 L844.5,816 L841.5,812 Z" fill="#b8b8b8"/>
<path d="M825,776 Q836,782 838,800 L838,812" fill="none" stroke="#f4f4f4" stroke-width="2.5"/>
<!-- under stage -->
<path d="M807.6,799 L832.2,799 L832.2,806 L810,806.5 Z" fill="#2a2a2a"/>
<ellipse cx="819.5" cy="803.6" rx="3" ry="1.3" fill="#e8e8e8"/>
<rect x="812" y="806" width="18" height="4" fill="#262626"/>
<ellipse cx="812.2" cy="811.8" rx="8.2" ry="2.9" fill="#1e1e1e"/>
<circle cx="835" cy="810.3" r="4.2" fill="#262626" stroke="#111" stroke-width="0.5"/>
<rect x="803.5" y="800" width="3" height="2" fill="#333"/>
<!-- stage -->
<path d="M794,792.7 L826.5,791.5 L831.5,793 L831.5,798 L798,799.3 Q792,799 792,796 Q792,793 794,792.7 Z" fill="#262626"/>
<line x1="806" y1="795.3" x2="826.5" y2="794" stroke="#9a9a9a" stroke-width="0.8"/>
<!-- objectives -->
<path d="M808,784.5 L823,784.5 L824.2,790 L820,792.5 L811,792.5 L807.5,790 Z" fill="#b8bcc0" stroke="#777" stroke-width="0.5"/>
<path d="M810,786 L811.5,792 M815.5,786 L815.5,792.5 M820.5,786 L819.5,792" stroke="#f2f2f2" stroke-width="1"/>
<!-- nosepiece -->
<path d="M806.6,777.5 L821.6,777.5 L822,783 Q815,786 807,783 Z" fill="#f0f0f0" stroke="#a8a8a8" stroke-width="0.5"/>
<path d="M807.5,782 Q815,785.5 822,782 L822,784.6 Q815,787.5 807.5,784.6 Z" fill="#262626"/>
<!-- head -->
<path d="M797,762.2 L824.2,760 L843.2,759.6 L843.2,774 L824,776.6 L798,777 Q796.2,777 796.2,775 L796.2,764 Q796.2,762.2 797,762.2 Z" fill="#efefef" stroke="#a8a8a8" stroke-width="0.6"/>
<rect x="818.5" y="763" width="3.2" height="13.2" fill="#fbfbfb"/>
<rect x="797.2" y="767.1" width="20" height="2.1" rx="0.8" fill="#333"/>
<ellipse cx="829.4" cy="768.8" rx="1.3" ry="0.9" fill="#333"/><ellipse cx="833.4" cy="768.8" rx="1.3" ry="0.9" fill="#333"/>
<path d="M806.5,753.5 L820.5,753 L824.5,760.5 L806,762 Z" fill="#f2f2f2" stroke="#a8a8a8" stroke-width="0.5"/>
<!-- tube -->
<rect x="809.2" y="735.5" width="9.4" height="18" fill="#ececec" stroke="#a0a0a0" stroke-width="0.6"/>
<rect x="810.5" y="736" width="3" height="17" fill="#f8f8f8"/>
<circle cx="818.3" cy="750.6" r="0.9" fill="#222"/>
<!-- eyepieces -->
<g transform="rotate(18 803 756)">
  <rect x="793" y="749.5" width="19" height="6.6" rx="1.5" fill="#2e2e2e"/>
  <rect x="794.5" y="756.3" width="19" height="6.6" rx="1.5" fill="#262626"/>
</g>
<circle cx="794.8" cy="754.3" r="3.6" fill="#2a2a2a" stroke="#111" stroke-width="0.5"/>
<circle cx="794.8" cy="754.3" r="1.6" fill="#6a6a6a"/>
<circle cx="802" cy="753.2" r="3.6" fill="#2a2a2a" stroke="#111" stroke-width="0.5"/>
<circle cx="802" cy="753.2" r="1.6" fill="#6a6a6a"/>
<!-- camera -->
<rect x="810.5" y="722.6" width="6.8" height="13" fill="#1e1e1e"/>
<rect x="805.8" y="717.2" width="14.9" height="5.4" rx="1" fill="#2a2a2a"/>
</svg>
</body></html>
